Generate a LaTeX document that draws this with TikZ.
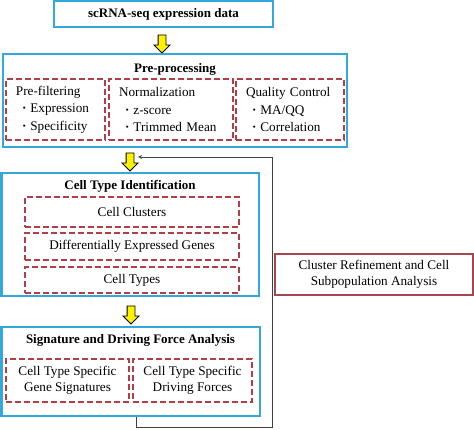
\documentclass[tikz,border=0pt]{standalone}
\usepackage{fontspec}
\setmainfont{Liberation Serif}
\usetikzlibrary{shapes.arrows}
\definecolor{skyblue}{RGB}{52,168,220}
\definecolor{dashred}{RGB}{178,62,72}
\definecolor{framered}{RGB}{168,70,80}
\newcommand{\itemdot}{\hspace*{6pt}{\bfseries·}\hspace{4pt}}

\begin{document}
\begin{tikzpicture}[x=1pt, y=1pt,
    every node/.style={font=\fontsize{13.2}{17.5}\selectfont},
    bluebox/.style={draw=skyblue, line width=2.4pt, inner sep=0pt},
    dashbox/.style={draw=dashred, line width=1.5pt, dash pattern=on 6pt off 3pt, inner sep=0pt, align=center},
    listbox/.style={dashbox, align=left, inner xsep=10pt, minimum height=61pt},
    titletext/.style={font=\fontsize{13}{15}\selectfont\bfseries},
    yarrow/.style={single arrow, draw=black, fill=yellow, line width=0.8pt, shape border rotate=270,
        minimum height=18pt, inner sep=3.5pt, single arrow head extend=4pt}]
    \useasboundingbox (0,0) rectangle (474,-430);

    % Input
    \node[bluebox, minimum width=219pt, minimum height=26pt, titletext] (data) at (163.5,-14) {scRNA-seq expression data};
    \node[yarrow] (arrA) at (162,-42) {};

    % Pre-processing
    \node[bluebox, minimum width=344pt, minimum height=93pt] (pre) at (175,-100.5) {};
    \node[titletext] (preT) at (175,-69) {Pre-processing};
    \node[listbox, text width=79pt] (filt) at (55.5,-109.5) {Pre-filtering\\ \itemdot Expression\\ \itemdot Specificity};
    \node[listbox, text width=104pt] (norm) at (171,-109.5) {Normalization\\ \itemdot z-score\\ \itemdot Trimmed Mean};
    \node[listbox, text width=88pt] (qc) at (290,-109.5) {Quality Control\\ \itemdot MA/QQ\\ \itemdot Correlation};
    \node[yarrow] (arrB) at (130,-160) {};

    % Cell type identification
    \node[bluebox, minimum width=257.5pt, minimum height=123pt] (cti) at (130.25,-234.5) {};
    \node[titletext] (ctiT) at (130,-186) {Cell Type Identification};
    \node[dashbox, minimum width=214pt, minimum height=30pt] (clus) at (132,-212) {Cell Clusters};
    \node[dashbox, minimum width=214pt, minimum height=27pt] (deg) at (132,-246.5) {Differentially Expressed Genes};
    \node[dashbox, minimum width=214pt, minimum height=26pt] (ctyp) at (132,-280) {Cell Types};
    \node[yarrow] (arrC) at (131,-313) {};

    % Signature and driving force
    \node[bluebox, minimum width=258.5pt, minimum height=89pt] (sig) at (130.75,-371.5) {};
    \node[titletext] (sigT) at (130.5,-340) {Signature and Driving Force Analysis};
    \node[dashbox, minimum width=123pt, minimum height=43pt, font=\fontsize{13.2}{15.5}\selectfont] (gene) at (67.5,-380.5) {Cell Type Specific\\Gene Signatures};
    \node[dashbox, minimum width=119pt, minimum height=43pt, font=\fontsize{13.2}{15.5}\selectfont] (drive) at (192.5,-380.5) {Cell Type Specific\\Driving Forces};

    % Refinement loop
    \node[draw=framered, line width=1.2pt, minimum width=198pt, minimum height=41pt, align=center,
        font=\fontsize{13.2}{15.5}\selectfont] (refine) at (374,-274.5) {Cluster Refinement and Cell\\Subpopulation Analysis};
    \coordinate (fbk) at (272,-157);
    \coordinate (fbktip) at (138,-157);
    \draw[-stealth, line width=0.8pt, black!75] ([xshift=6pt]sig.south) -- ++(0,-10.5) -| (fbk) -- (fbktip);
\end{tikzpicture}
\end{document}
